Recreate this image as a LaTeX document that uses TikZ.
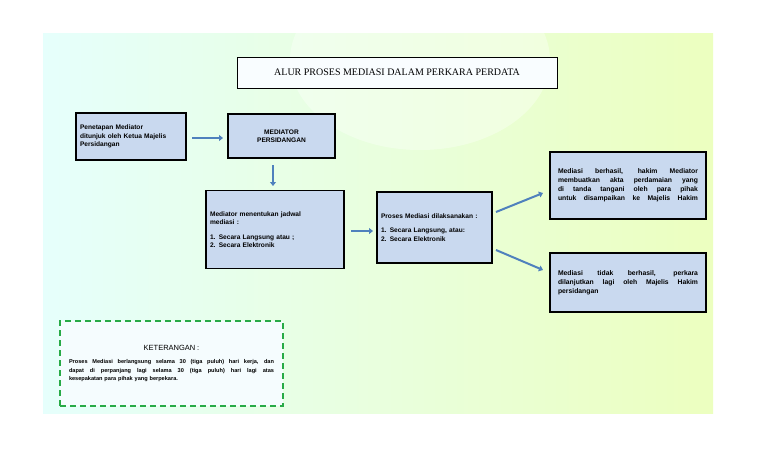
\documentclass[tikz,border=0pt]{standalone}
\usepackage{fontspec}
\setmainfont{Liberation Sans}
\newfontfamily\serifx{Liberation Serif}
\usetikzlibrary{arrows.meta}
\definecolor{boxfill}{HTML}{C9D9EF}
\definecolor{arr}{HTML}{4F81BD}
\newcommand{\jl}[2]{\makebox[#1pt][s]{\spaceskip=.28em plus 2em\relax #2}}
\begin{document}
\begin{tikzpicture}[x=1pt,y=-1pt,
  bx/.style={draw=black,line width=1.2pt,fill=boxfill,inner sep=4pt,font=\fontsize{6.6}{8.2}\selectfont\bfseries},
  ar/.style={draw=arr,line width=2pt,-{Triangle[length=4pt,width=6pt]}}]
\useasboundingbox (0,0) rectangle (768,466);
\fill[white] (0,0) rectangle (768,466);
\shade[left color=green!12!cyan!10, right color=green!30!yellow!25] (43,33) rectangle (713,413);
\fill[white,opacity=0.35] (420,60) ellipse (130 and 90);
\node[draw=black,line width=0.8pt,fill=white!70!cyan!8,minimum width=320,minimum height=31,font=\serifx\fontsize{10}{12}\selectfont] (t) at (397,72.5) {ALUR PROSES MEDIASI DALAM PERKARA PERDATA};
\node[bx,minimum width=110,minimum height=47,text width=102,align=left] (b1) at (131,136.5) {Penetapan Mediator\\ditunjuk oleh Ketua Majelis\\Persidangan};
\node[bx,minimum width=107,minimum height=44,align=center] (b2) at (281.5,136) {MEDIATOR\\PERSIDANGAN};
\node[bx,minimum width=138,minimum height=78,text width=130,align=left,anchor=north] (b3) at (275,190) {Mediator menentukan jadwal\\mediasi :\\[6pt]1. Secara Langsung atau ;\\2. Secara Elektronik};
\node[bx,minimum width=115,minimum height=71,text width=107,align=left] (b4) at (434.5,227.5) {Proses Mediasi dilaksanakan :\\[6pt]1. Secara Langsung, atau:\\2. Secara Elektronik};
\node[bx,minimum width=156,minimum height=67,text width=140,align=left,font=\fontsize{6.8}{9}\selectfont\bfseries] (b5) at (628,185.5) {\jl{140}{Mediasi berhasil, hakim Mediator}\\\jl{140}{membuatkan akta perdamaian yang}\\\jl{140}{di tanda tangani oleh para pihak}\\\jl{140}{untuk disampaikan ke Majelis Hakim}};
\node[bx,minimum width=156,minimum height=59,text width=140,align=left,font=\fontsize{6.8}{9}\selectfont\bfseries] (b6) at (628,282.5) {\jl{140}{Mediasi tidak berhasil, perkara}\\\jl{140}{dilanjutkan lagi oleh Majelis Hakim}\\persidangan};
\node[draw={rgb,255:red,40;green,170;blue,70},dashed,dash pattern=on 6pt off 4pt,line width=1.2pt,fill=cyan!4,minimum width=223,minimum height=85,text width=205,align=left,inner sep=6pt,font=\fontsize{5.6}{8.2}\selectfont\bfseries] (k) at (171.5,363.5) {\makebox[205pt][c]{\mdseries\fontsize{7.5}{9}\selectfont KETERANGAN :}\\[5pt]\jl{205}{Proses Mediasi berlangsung selama 30 (tiga puluh) hari kerja, dan}\\\jl{205}{dapat di perpanjang lagi selama 30 (tiga puluh) hari lagi atas}\\kesepakatan para pihak yang berpekara.};
\coordinate (a1) at (192,138); \coordinate (a2) at (223,138);
\coordinate (a3) at (273,165); \coordinate (a4) at (273,186);
\coordinate (a5) at (351,231); \coordinate (a6) at (373,231);
\coordinate (a7) at (496,212); \coordinate (a8) at (543,193);
\coordinate (a9) at (496,250); \coordinate (a10) at (543,270);
\draw[ar] (a1) -- (a2);
\draw[ar] (a3) -- (a4);
\draw[ar] (a5) -- (a6);
\draw[ar] (a7) -- (a8);
\draw[ar] (a9) -- (a10);
\end{tikzpicture}
\end{document}
